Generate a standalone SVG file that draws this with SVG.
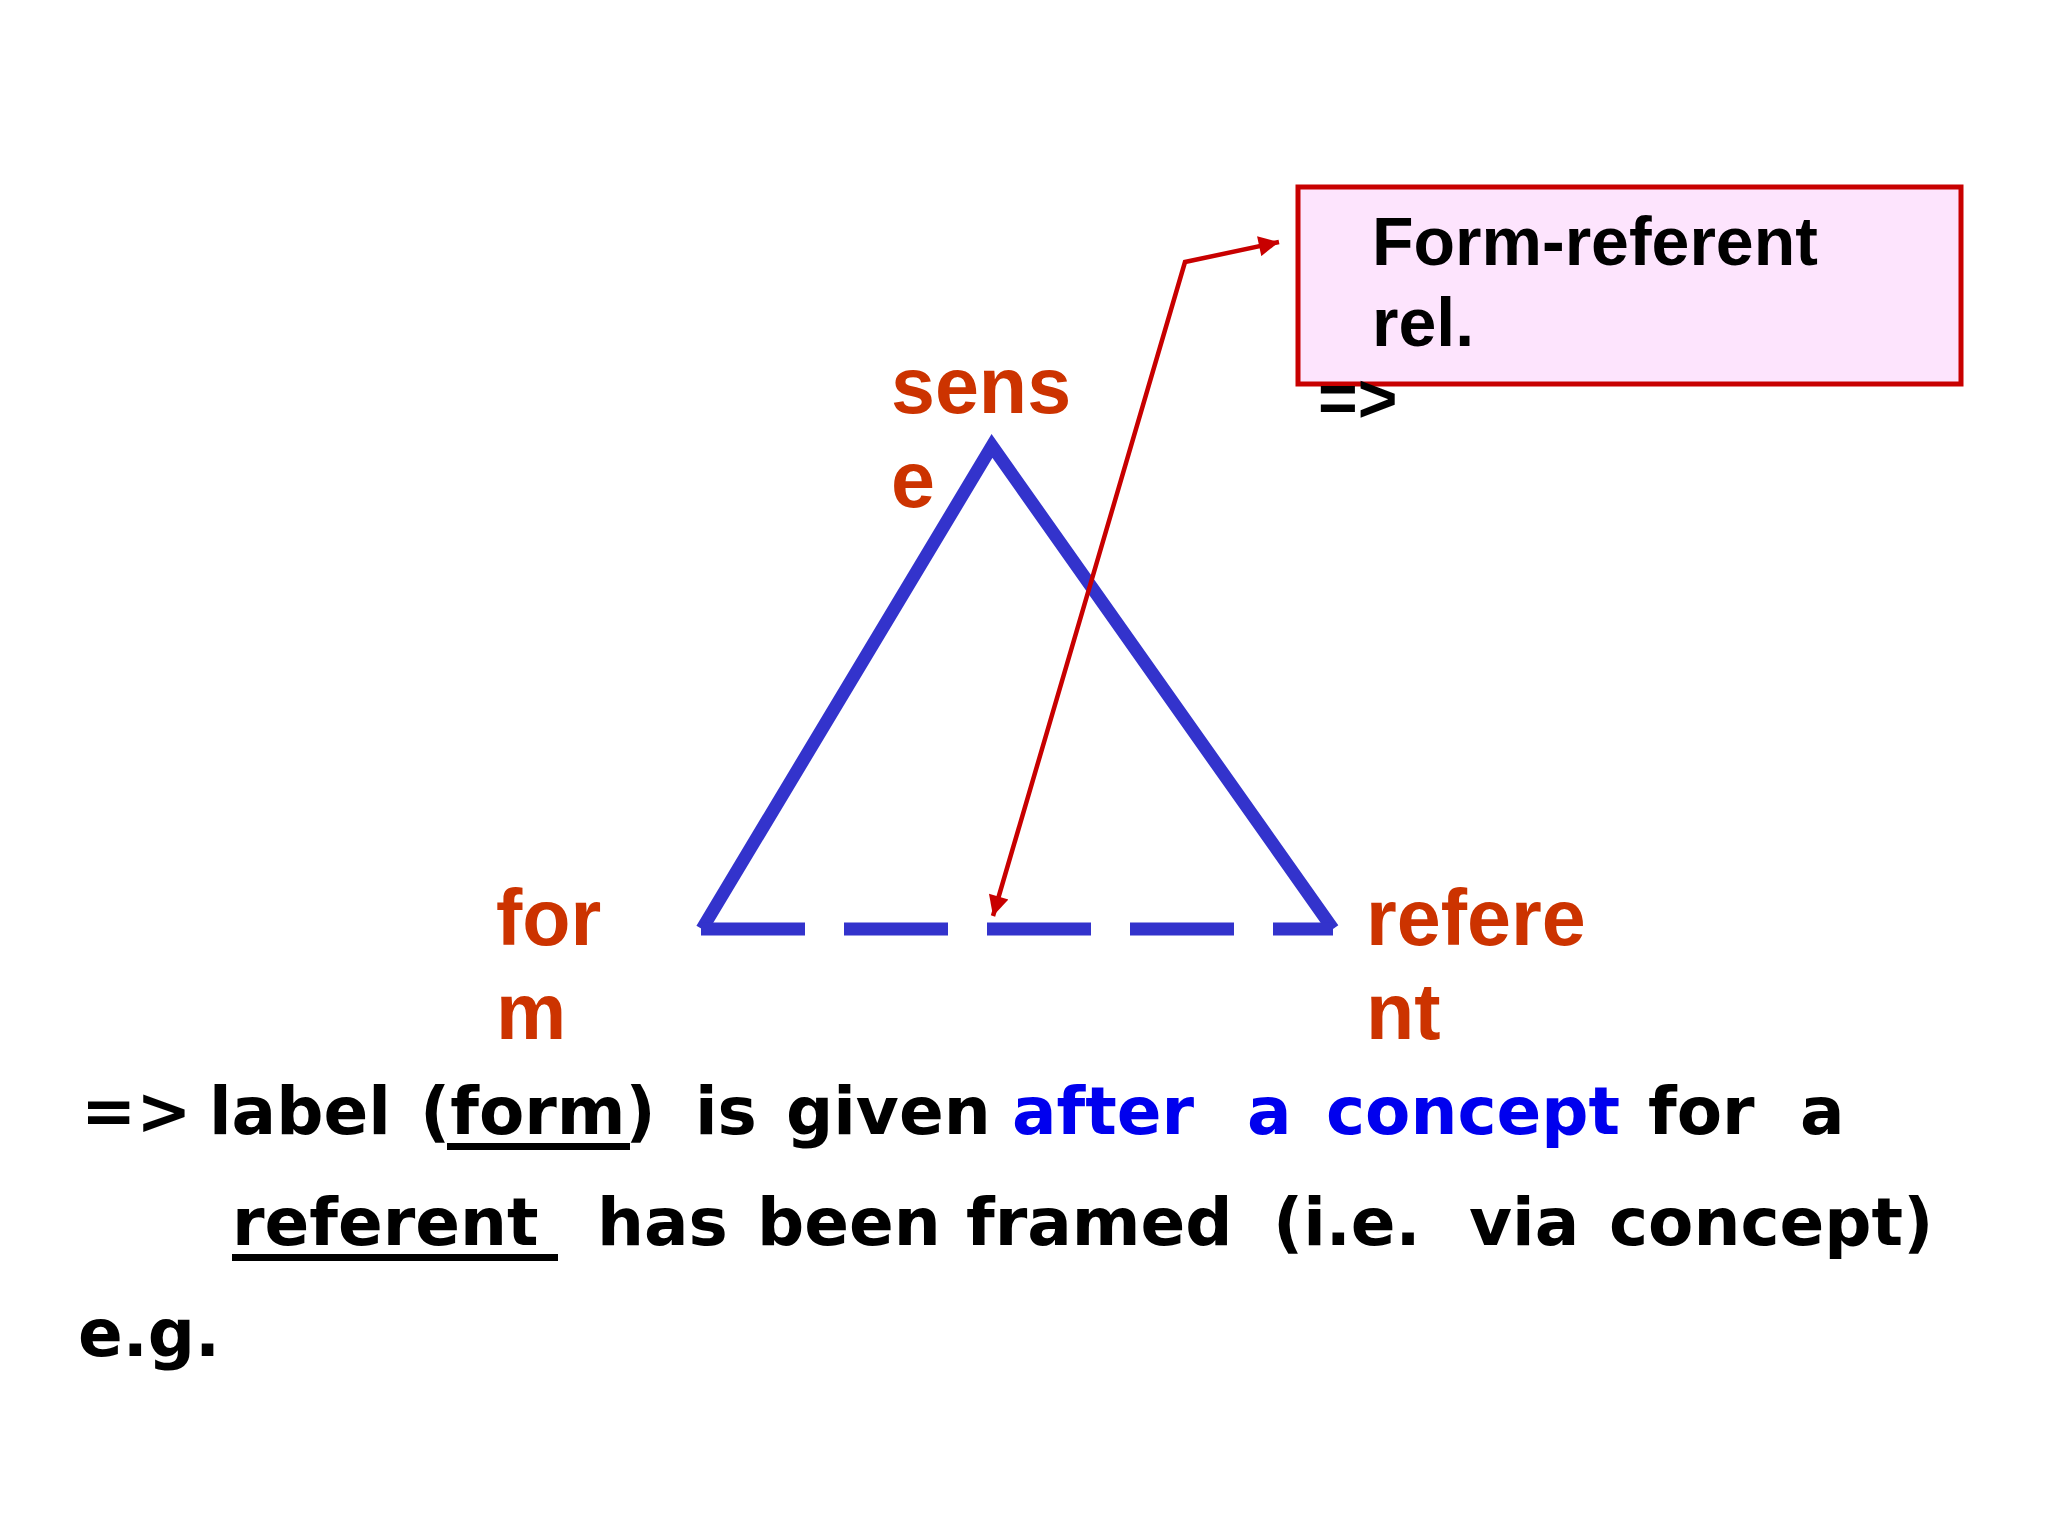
<svg xmlns="http://www.w3.org/2000/svg" width="2048" height="1536" viewBox="0 0 2048 1536">
<style>
.lbl{font-family:"Liberation Sans",Arial,sans-serif;font-weight:bold;font-size:79px;fill:#CC3300}
.box{font-family:"Liberation Sans",Arial,sans-serif;font-weight:bold;font-size:68px;fill:#000}
.body{font-family:"DejaVu Sans","Liberation Sans",sans-serif;font-weight:bold;font-size:66px;fill:#000}
.blue{fill:#0000EE}
.tri{stroke:#3333CC;stroke-width:13;fill:none}
.red{stroke:#C80000;stroke-width:4.5;fill:none}
</style>
<defs>
<marker id="ah" viewBox="0 0 10 10" refX="10" refY="5" markerWidth="5" markerHeight="4.5" orient="auto-start-reverse" markerUnits="strokeWidth">
<path d="M0,0 L10,5 L0,10 z" fill="#C80000"/>
</marker>
</defs>
<rect width="2048" height="1536" fill="#fff"/>
<g id="connectors">
<path class="tri" d="M702,929 L992,446 L1333,929" stroke-linejoin="miter"/>
<line class="tri" x1="701" y1="929" x2="1333" y2="929" stroke-dasharray="104 39"/>
<polyline class="red" points="993,916 1185,262 1279,242" marker-start="url(#ah)" marker-end="url(#ah)"/>
</g>
<g id="box-form-referent">
<rect x="1298" y="187" width="663" height="197" fill="#FDE4FD" stroke="#C80000" stroke-width="5"/>
<text class="box" x="1372" y="265">Form-referent</text>
<text class="box" x="1372" y="346">rel.</text>
<text class="box" x="1318" y="422">=&gt;</text>
</g>
<g id="node-sense">
<text class="lbl" x="891" y="413">sens</text>
<text class="lbl" x="891" y="507">e</text>
</g>
<g id="node-form">
<text class="lbl" x="496" y="945">for</text>
<text class="lbl" x="496" y="1039">m</text>
</g>
<g id="node-referent">
<text class="lbl" x="1366" y="945">refere</text>
<text class="lbl" x="1366" y="1039">nt</text>
</g>
<g id="caption">
<text class="body" y="1134"><tspan x="81">=&gt;</tspan><tspan x="209">label</tspan><tspan x="420">(form)</tspan><tspan x="695">is</tspan><tspan x="786">given</tspan><tspan x="1012" class="blue">after</tspan><tspan x="1247" class="blue">a</tspan><tspan x="1326" class="blue">concept</tspan><tspan x="1648">for</tspan><tspan x="1800">a</tspan></text>
<rect x="447" y="1143" width="183" height="7" fill="#000"/>
<text class="body" y="1245"><tspan x="232">referent</tspan><tspan x="597">has</tspan><tspan x="757">been</tspan><tspan x="966">framed</tspan><tspan x="1273">(i.e.</tspan><tspan x="1469">via</tspan><tspan x="1609">concept)</tspan></text>
<rect x="232" y="1254" width="326" height="7" fill="#000"/>
<text class="body" x="78" y="1356">e.g.</text>
</g>
</svg>
